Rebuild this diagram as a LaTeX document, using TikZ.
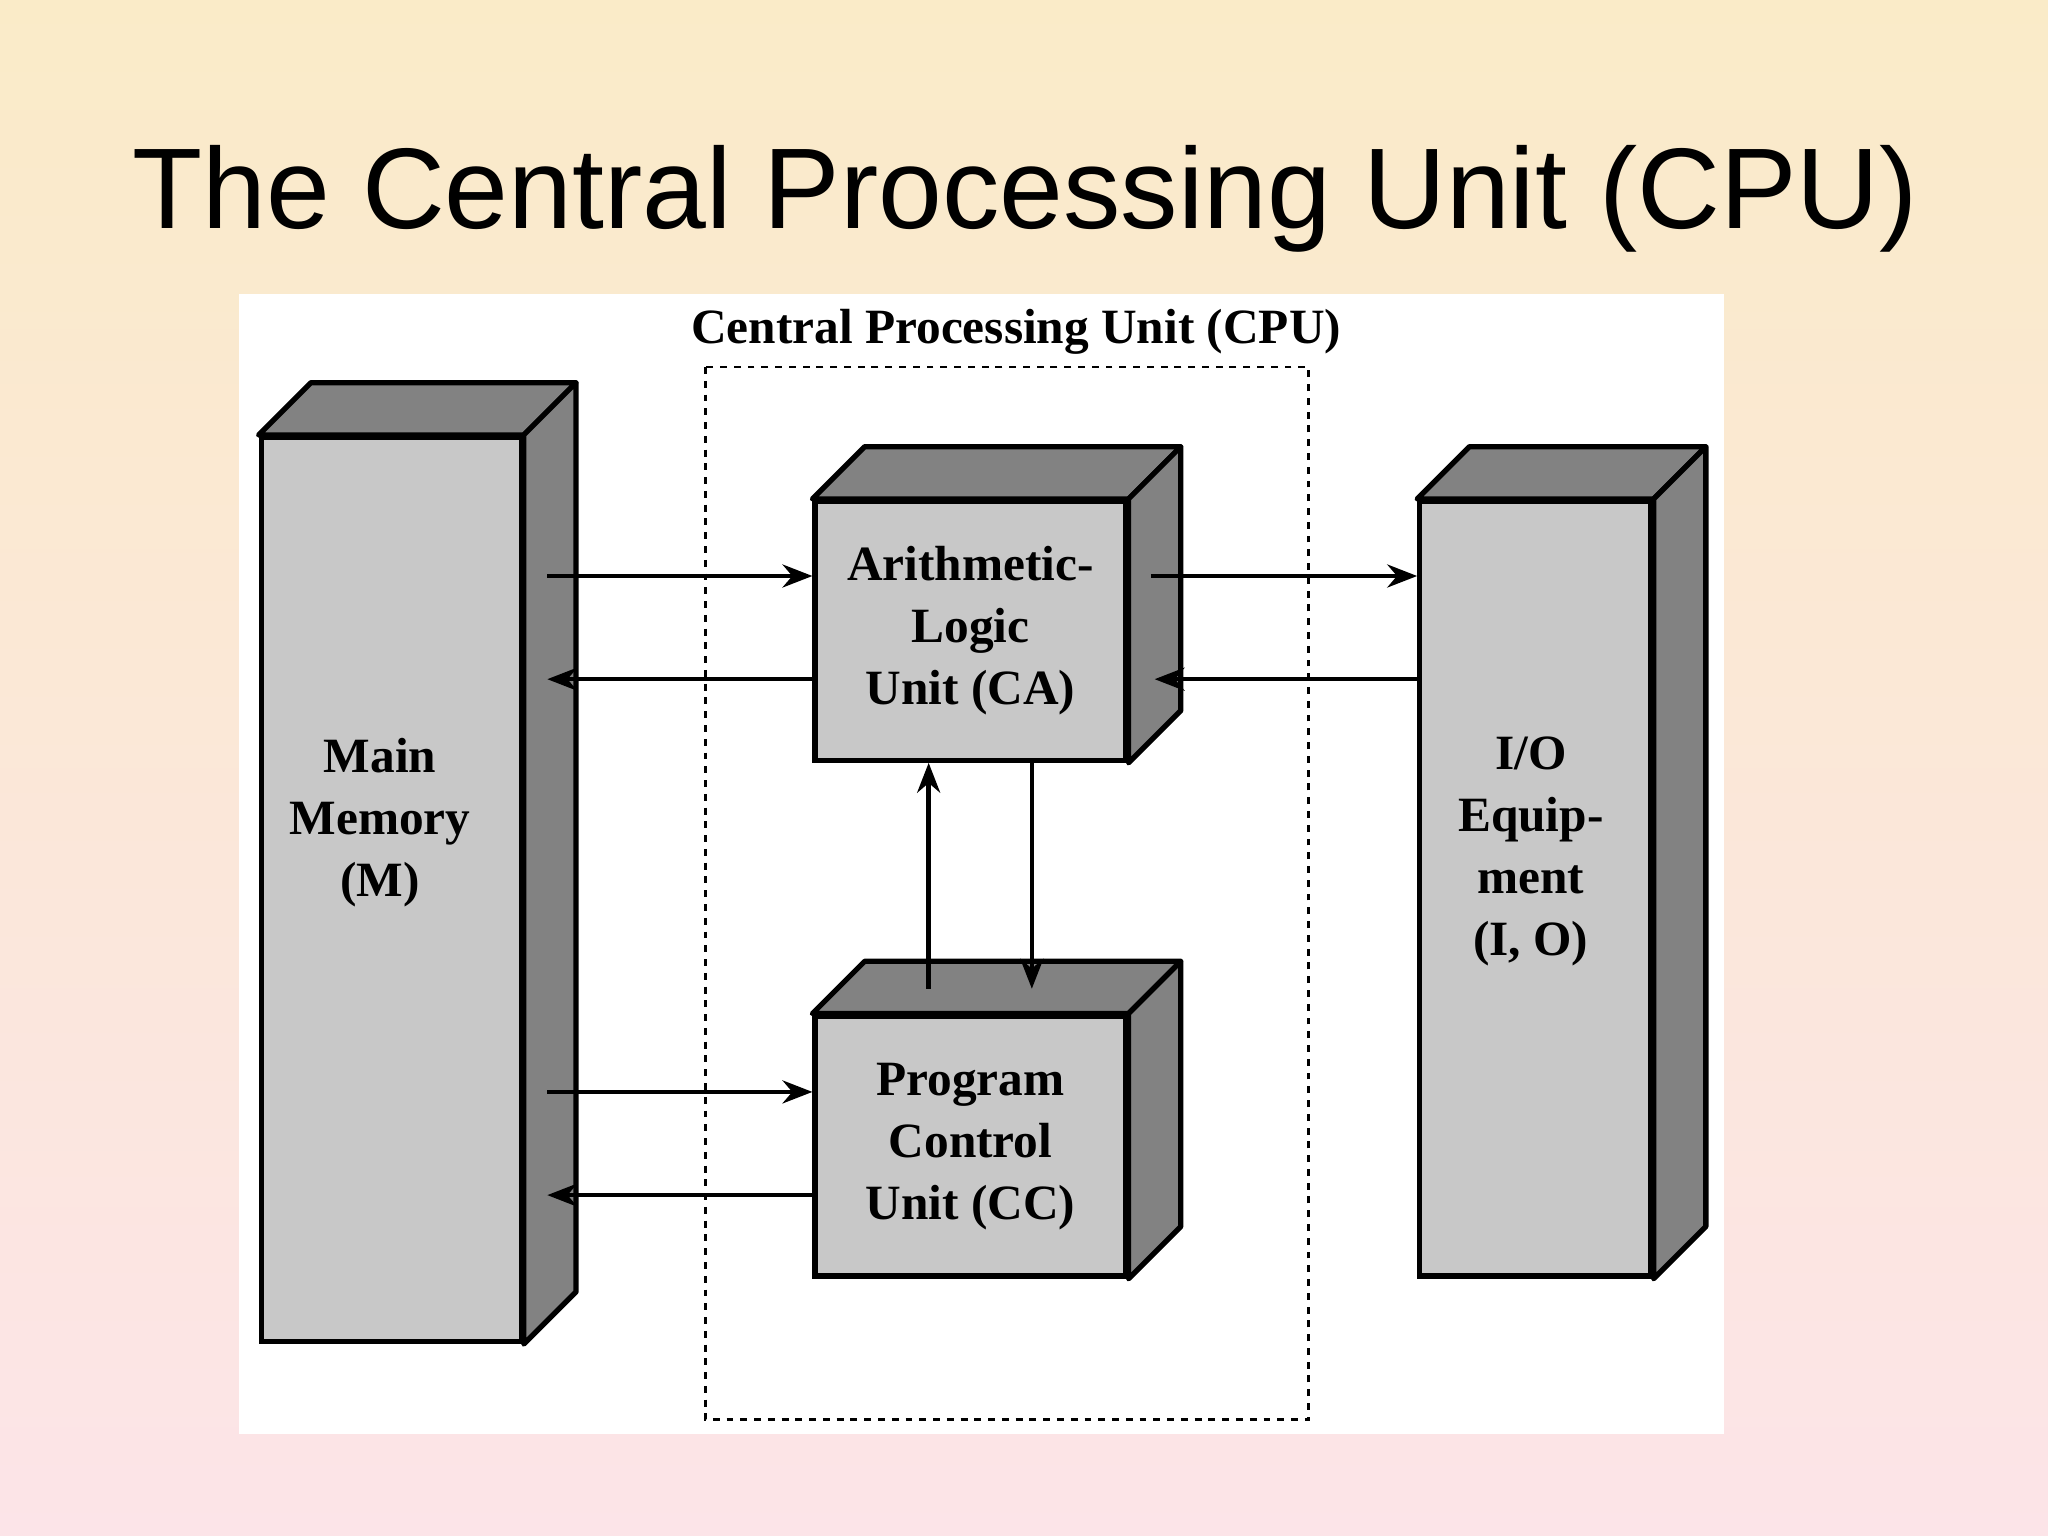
\documentclass[tikz,border=0pt]{standalone}
\usepackage{fontspec}
\setmainfont{Liberation Serif}
\newfontfamily\titlefont{Liberation Sans}
\usetikzlibrary{arrows.meta,calc}
\definecolor{bgtop}{RGB}{250,235,200}
\definecolor{bgbot}{RGB}{252,228,232}
\definecolor{faceC}{RGB}{200,200,200}
\definecolor{sideC}{RGB}{130,130,130}
\begin{document}
\begin{tikzpicture}
		[x=0.02cm,y=-0.02cm,
		front/.style ={rectangle, draw=black, line width=2.3pt, fill=faceC, anchor=north west, inner sep=0pt, align=center, font=\bfseries\fontsize{21.5}{27}\selectfont},
		lab/.style ={align=center, font=\bfseries\fontsize{21.5}{27}\selectfont},
		face/.style ={draw=black, line width=2.3pt, fill=sideC, line join=round},
		line/.style ={draw, line width=2pt, -{Stealth[length=13pt,width=10pt]}},
		]
		\shade[top color=bgtop, bottom color=bgbot] (0,0) rectangle (1568,1176);
		\useasboundingbox (0,0) rectangle (1568,1176);
		\node[font=\titlefont\fontsize{50}{56}\selectfont] (T) at (785,152) {The Central Processing Unit (CPU)};
		\fill[white] (183,225) rectangle (1320,1098);

		\draw[dashed, line width=1.2pt] (540,281) rectangle (1002,1087);
		\node[font=\bfseries\fontsize{21.5}{25}\selectfont] (CPU) at (778,254) {Central Processing Unit (CPU)};

		\node[front, minimum width=199*0.02cm, minimum height=692*0.02cm] (M) at (198,333) {};
		\node[front, minimum width=238*0.02cm, minimum height=198*0.02cm] (ALU) at (622,382) {Arithmetic-\\Logic\\Unit (CA)};
		\node[front, minimum width=238*0.02cm, minimum height=199*0.02cm] (PCU) at (622,776) {Program\\Control\\Unit (CC)};
		\node[front, minimum width=177*0.02cm, minimum height=593*0.02cm] (IO) at (1085,382) {};
		\node[lab] (Mlab) at (291,630) {Main\\Memory\\(M)};
		\node[lab] (IOlab) at (1172,652) {I/O\\Equip-\\ment\\(I, O)};

		% top and side faces
		\foreach \b in {M,ALU,PCU,IO}{
			\draw[face] (\b.north west) -- ++(40,-40) -- ($(\b.north east)+(40,-40)$) -- (\b.north east) -- cycle;
			\draw[face] (\b.north east) -- ++(40,-40) -- ($(\b.south east)+(40,-40)$) -- (\b.south east) -- cycle;
		}

		\draw[line] ($(M.east |- 0,441)+(18,0)$) -- (ALU.west |- 0,441);
		\draw[line] (ALU.west |- 0,520) -- ($(M.east |- 0,520)+(18,0)$);
		\draw[line] ($(M.east |- 0,836)+(18,0)$) -- (PCU.west |- 0,836);
		\draw[line] (PCU.west |- 0,915) -- ($(M.east |- 0,915)+(18,0)$);
		\draw[line] ($(ALU.east |- 0,441)+(17,0)$) -- (IO.west |- 0,441);
		\draw[line] (IO.west |- 0,520) -- ($(ALU.east |- 0,520)+(20,0)$);
		\draw[line] ($(PCU.north west)+(89,-19)$) -- ($(ALU.south west)+(89,0)$);
		\draw[line] ($(ALU.south west)+(168,0)$) -- ($(PCU.north west)+(168,-19)$);
	\end{tikzpicture}
\end{document}
